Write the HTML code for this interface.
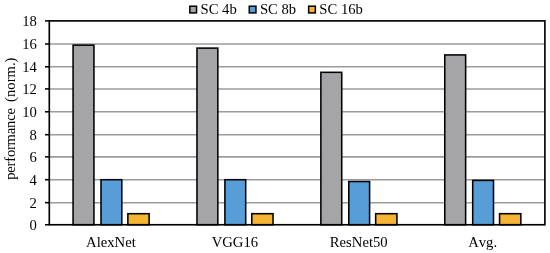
<!DOCTYPE html><html><head><meta charset="utf-8"><title>chart</title><style>html,body{margin:0;padding:0;background:#fff}svg{display:block}text{font-kerning:none;font-variant-ligatures:none;font-family:"Liberation Serif","Times New Roman",serif;font-size:14.67px;fill:#000}</style></head><body>
<svg width="550" height="253" viewBox="0 0 550 253">
<rect width="550" height="253" fill="#fff"/>
<line x1="49.30" x2="544.90" y1="202.65" y2="202.65" stroke="#9b9b9b" stroke-width="1.55"/>
<line x1="49.30" x2="544.90" y1="179.70" y2="179.70" stroke="#9b9b9b" stroke-width="1.55"/>
<line x1="49.30" x2="544.90" y1="156.85" y2="156.85" stroke="#9b9b9b" stroke-width="1.55"/>
<line x1="49.30" x2="544.90" y1="134.70" y2="134.70" stroke="#9b9b9b" stroke-width="1.55"/>
<line x1="49.30" x2="544.90" y1="111.80" y2="111.80" stroke="#9b9b9b" stroke-width="1.55"/>
<line x1="49.30" x2="544.90" y1="88.90" y2="88.90" stroke="#9b9b9b" stroke-width="1.55"/>
<line x1="49.30" x2="544.90" y1="66.80" y2="66.80" stroke="#9b9b9b" stroke-width="1.55"/>
<line x1="49.30" x2="544.90" y1="44.00" y2="44.00" stroke="#9b9b9b" stroke-width="1.55"/>
<rect x="73.07" y="45.14" width="20.86" height="179.61" fill="#a5a5a7" stroke="#000" stroke-width="1.55"/>
<rect x="101.00" y="179.70" width="20.80" height="45.05" fill="#579dd7" stroke="#000" stroke-width="1.55"/>
<rect x="127.87" y="213.70" width="21.26" height="11.05" fill="#f5b433" stroke="#000" stroke-width="1.55"/>
<rect x="196.97" y="48.10" width="20.86" height="176.65" fill="#a5a5a7" stroke="#000" stroke-width="1.55"/>
<rect x="224.90" y="179.70" width="20.80" height="45.05" fill="#579dd7" stroke="#000" stroke-width="1.55"/>
<rect x="251.77" y="213.70" width="21.26" height="11.05" fill="#f5b433" stroke="#000" stroke-width="1.55"/>
<rect x="320.87" y="72.33" width="20.86" height="152.43" fill="#a5a5a7" stroke="#000" stroke-width="1.55"/>
<rect x="348.80" y="181.54" width="20.80" height="43.21" fill="#579dd7" stroke="#000" stroke-width="1.55"/>
<rect x="375.67" y="213.70" width="21.26" height="11.05" fill="#f5b433" stroke="#000" stroke-width="1.55"/>
<rect x="444.77" y="54.94" width="20.86" height="169.81" fill="#a5a5a7" stroke="#000" stroke-width="1.55"/>
<rect x="472.70" y="180.39" width="20.80" height="44.36" fill="#579dd7" stroke="#000" stroke-width="1.55"/>
<rect x="499.57" y="213.70" width="21.26" height="11.05" fill="#f5b433" stroke="#000" stroke-width="1.55"/>
<rect x="49.30" y="20.90" width="495.60" height="203.85" fill="none" stroke="#000" stroke-width="1.65"/>
<line x1="45" x2="49.30" y1="224.75" y2="224.75" stroke="#000" stroke-width="1.55"/>
<text x="36.9" y="229.65" text-anchor="end">0</text>
<line x1="45" x2="49.30" y1="202.65" y2="202.65" stroke="#000" stroke-width="1.55"/>
<text x="36.9" y="207.55" text-anchor="end">2</text>
<line x1="45" x2="49.30" y1="179.70" y2="179.70" stroke="#000" stroke-width="1.55"/>
<text x="36.9" y="184.60" text-anchor="end">4</text>
<line x1="45" x2="49.30" y1="156.85" y2="156.85" stroke="#000" stroke-width="1.55"/>
<text x="36.9" y="161.75" text-anchor="end">6</text>
<line x1="45" x2="49.30" y1="134.70" y2="134.70" stroke="#000" stroke-width="1.55"/>
<text x="36.9" y="139.60" text-anchor="end">8</text>
<line x1="45" x2="49.30" y1="111.80" y2="111.80" stroke="#000" stroke-width="1.55"/>
<text x="36.9" y="116.70" text-anchor="end">10</text>
<line x1="45" x2="49.30" y1="88.90" y2="88.90" stroke="#000" stroke-width="1.55"/>
<text x="36.9" y="93.80" text-anchor="end">12</text>
<line x1="45" x2="49.30" y1="66.80" y2="66.80" stroke="#000" stroke-width="1.55"/>
<text x="36.9" y="71.70" text-anchor="end">14</text>
<line x1="45" x2="49.30" y1="44.00" y2="44.00" stroke="#000" stroke-width="1.55"/>
<text x="36.9" y="48.90" text-anchor="end">16</text>
<line x1="45" x2="49.30" y1="20.90" y2="20.90" stroke="#000" stroke-width="1.55"/>
<text x="36.9" y="25.80" text-anchor="end">18</text>
<text x="110.95" y="246.8" text-anchor="middle">AlexNet</text>
<text x="234.85" y="246.8" text-anchor="middle">VGG16</text>
<text x="358.75" y="246.8" text-anchor="middle">ResNet50</text>
<text x="482.65" y="246.8" text-anchor="middle">Avg.</text>
<text transform="translate(15.0,179.75) rotate(-90)"><tspan x="0" textLength="71.7" lengthAdjust="spacing">performance</tspan><tspan x="74.2"> (norm.)</tspan></text>
<rect x="189.85" y="6.2" width="6.7" height="6.7" fill="#a5a5a7" stroke="#000" stroke-width="1.5"/>
<text x="200.50" y="13.7">SC 4b</text>
<rect x="249.25" y="6.2" width="6.7" height="6.7" fill="#579dd7" stroke="#000" stroke-width="1.5"/>
<text x="259.90" y="13.7">SC 8b</text>
<rect x="308.65" y="6.2" width="6.7" height="6.7" fill="#f5b433" stroke="#000" stroke-width="1.5"/>
<text x="319.30" y="13.7">SC 16b</text>
</svg></body></html>
